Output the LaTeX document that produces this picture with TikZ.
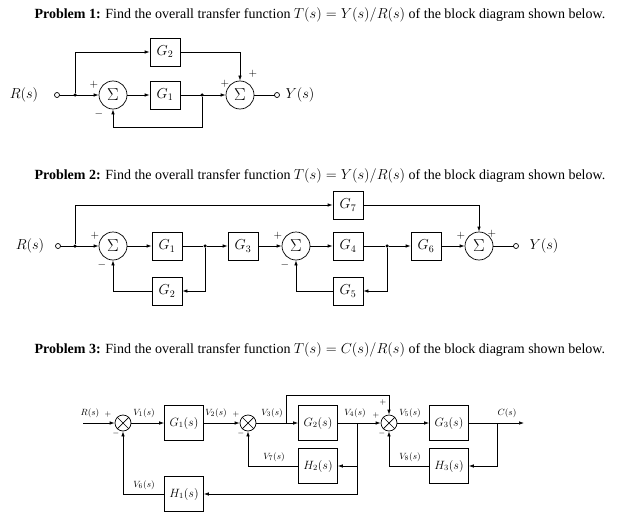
\documentclass[tikz,border=0pt]{standalone}
\usepackage{fontspec}
\setmainfont{Liberation Serif}
\usetikzlibrary{arrows.meta}
\begin{document}
\begin{tikzpicture}[x=1pt,y=-1pt,
  every node/.style={font=\fontsize{14}{16}\selectfont},
  sum/.style={draw,circle,minimum size=28pt,inner sep=0pt,font=\fontsize{16}{18}\selectfont},
  blk/.style={draw,minimum width=30pt,minimum height=28pt,inner sep=0pt},
  port/.style={draw,circle,minimum size=5pt,inner sep=0pt,fill=white},
  dot/.style={circle,fill,minimum size=3.5pt,inner sep=0pt},
  sx/.style={draw,circle,minimum size=16pt,inner sep=0pt},
  bb/.style={draw,minimum width=39pt,minimum height=35pt,inner sep=0pt,font=\fontsize{12}{14}\selectfont},
  lb/.style={font=\fontsize{9.5}{11}\selectfont,inner sep=1pt},
  pm/.style={font=\fontsize{8}{9}\selectfont,inner sep=0pt},
  sg/.style={font=\fontsize{11}{12}\selectfont,inner sep=0pt},
  ar/.style={-{Latex[length=5pt,width=3.5pt]}},
  ln/.style={line width=0.7pt}]
\useasboundingbox (0,0) rectangle (626,532);
\tikzset{ttl/.style={font=\fontsize{14}{16}\selectfont,anchor=west}}
% Titles
\node[ttl] (t1) at (31,15) {\textbf{Problem 1:} Find the overall transfer function $T(s)=Y(s)/R(s)$ of the block diagram shown below.};
\node[ttl] (t2) at (31,176) {\textbf{Problem 2:} Find the overall transfer function $T(s)=Y(s)/R(s)$ of the block diagram shown below.};
\node[ttl] (t3) at (31,350) {\textbf{Problem 3:} Find the overall transfer function $T(s)=C(s)/R(s)$ of the block diagram shown below.};
% ---------- Problem 1
\begin{scope}[ln]
\node (rl1) at (24,95) {$R(s)$};
\node[sum] (s11) at (113,95) {$\Sigma$};
\node[blk] (g11) at (165,95) {$G_1$};
\node[blk] (g12) at (165,52) {$G_2$};
\node[sum] (s12) at (240,95) {$\Sigma$};
\node[dot] (j11) at (75,95) {};
\node[dot] (j12) at (202,95) {};
\node (yl1) at (300,95) {$Y(s)$};
\draw[ar] (57,95) -- (s11);
\draw[ar] (s11) -- (g11);
\draw[ar] (g11) -- (s12);
\draw (s12) -- (277,95);
\draw[ar] (j11) |- (g12);
\draw[ar] (g12) -| (s12);
\draw[ar] (j12) -- (202,127) -| (s11);
\node[port] (p11) at (57,95) {};
\node[port] (p12) at (277,95) {};
\node[sg] at (94,85) {$+$};
\node[sg] at (99,114) {$-$};
\node[sg] at (225,84) {$+$};
\node[sg] at (253,74) {$+$};
\end{scope}
% ---------- Problem 2
\begin{scope}[ln]
\node (rl2) at (30,246) {$R(s)$};
\node[sum] (s21) at (113,246) {$\Sigma$};
\node[blk] (g21) at (167,246) {$G_1$};
\node[blk] (g22) at (167,291) {$G_2$};
\node[blk] (g23) at (243,246) {$G_3$};
\node[sum] (s22) at (296,246) {$\Sigma$};
\node[blk] (g24) at (348,246) {$G_4$};
\node[blk] (g25) at (348,291) {$G_5$};
\node[blk] (g26) at (426,246) {$G_6$};
\node[blk] (g27) at (348,205) {$G_7$};
\node[sum] (s23) at (479,246) {$\Sigma$};
\node[dot] (j21) at (75,246) {};
\node[dot] (j22) at (205,246) {};
\node[dot] (j23) at (387,246) {};
\node (yl2) at (544,246) {$Y(s)$};
\draw[ar] (58,246) -- (s21);
\draw[ar] (s21) -- (g21);
\draw (g21) -- (j22);
\draw[ar] (j22) -- (g23);
\draw[ar] (g23) -- (s22);
\draw[ar] (s22) -- (g24);
\draw (g24) -- (j23);
\draw[ar] (j23) -- (g26);
\draw[ar] (g26) -- (s23);
\draw (s23) -- (516,246);
\draw[ar] (j21) |- (g27);
\draw[ar] (g27) -| (s23);
\draw[ar] (j22) |- (g22);
\draw[ar] (g22) -| (s21);
\draw[ar] (j23) |- (g25);
\draw[ar] (g25) -| (s22);
\node[port] (p21) at (58,246) {};
\node[port] (p22) at (516,246) {};
\node[sg] at (95,236) {$+$};
\node[sg] at (102,265) {$-$};
\node[sg] at (278,236) {$+$};
\node[sg] at (285,265) {$-$};
\node[sg] at (461,236) {$+$};
\node[sg] at (492,234) {$+$};
\end{scope}
% ---------- Problem 3
\begin{scope}[ln]
\node[sx] (s31) at (123,423) {};
\node[bb] (b31) at (184,423) {$G_1(s)$};
\node[sx] (s32) at (248,423) {};
\node[bb] (b32) at (318,423) {$G_2(s)$};
\node[sx] (s33) at (389,423) {};
\node[bb] (b33) at (449,423) {$G_3(s)$};
\node[bb] (h32) at (318,466) {$H_2(s)$};
\node[bb] (h31) at (184,494) {$H_1(s)$};
\node[bb] (h33) at (449,466) {$H_3(s)$};
\foreach \n in {s31,s32,s33}{
  \draw (\n.north east) -- (\n.south west);
  \draw (\n.north west) -- (\n.south east);}
\coordinate (c30) at (83,423);
\coordinate (c3a) at (286,423);
\coordinate (c3b) at (357,423);
\coordinate (c3c) at (497,423);
\coordinate (c3e) at (524,423);
\draw[ar] (c30) -- (s31);
\draw[ar] (s31) -- (b31);
\draw[ar] (b31) -- (s32);
\draw[ar] (s32) -- (b32);
\draw[ar] (b32) -- (s33);
\draw[ar] (s33) -- (b33);
\draw[ar] (b33) -- (c3e);
\draw[ar] (c3a) -- (286,395) -| (s33);
\draw[ar] (c3b) |- (h32);
\draw[ar] (h32) -| (s32);
\draw[ar] (c3b) |- (h31);
\draw[ar] (h31) -| (s31);
\draw[ar] (c3c) |- (h33);
\draw[ar] (h33) -| (s33);
\node[lb] at (90,413) {$R(s)$};
\node[pm] at (108,414) {$+$};
\node[pm] at (116,433) {$-$};
\node[lb] at (144,413) {$V_1(s)$};
\node[lb] at (216,413) {$V_2(s)$};
\node[pm] at (236,414) {$+$};
\node[pm] at (241,433) {$-$};
\node[lb] at (272,413) {$V_3(s)$};
\node[lb] at (355,413) {$V_4(s)$};
\node[pm] at (376,415) {$+$};
\node[pm] at (383,402) {$+$};
\node[pm] at (382,433) {$-$};
\node[lb] at (410,413) {$V_5(s)$};
\node[lb] at (507,413) {$C(s)$};
\node[lb] at (274,457) {$V_7(s)$};
\node[lb] at (410,457) {$V_8(s)$};
\node[lb] at (144,485) {$V_6(s)$};
\end{scope}
\end{tikzpicture}
\end{document}
